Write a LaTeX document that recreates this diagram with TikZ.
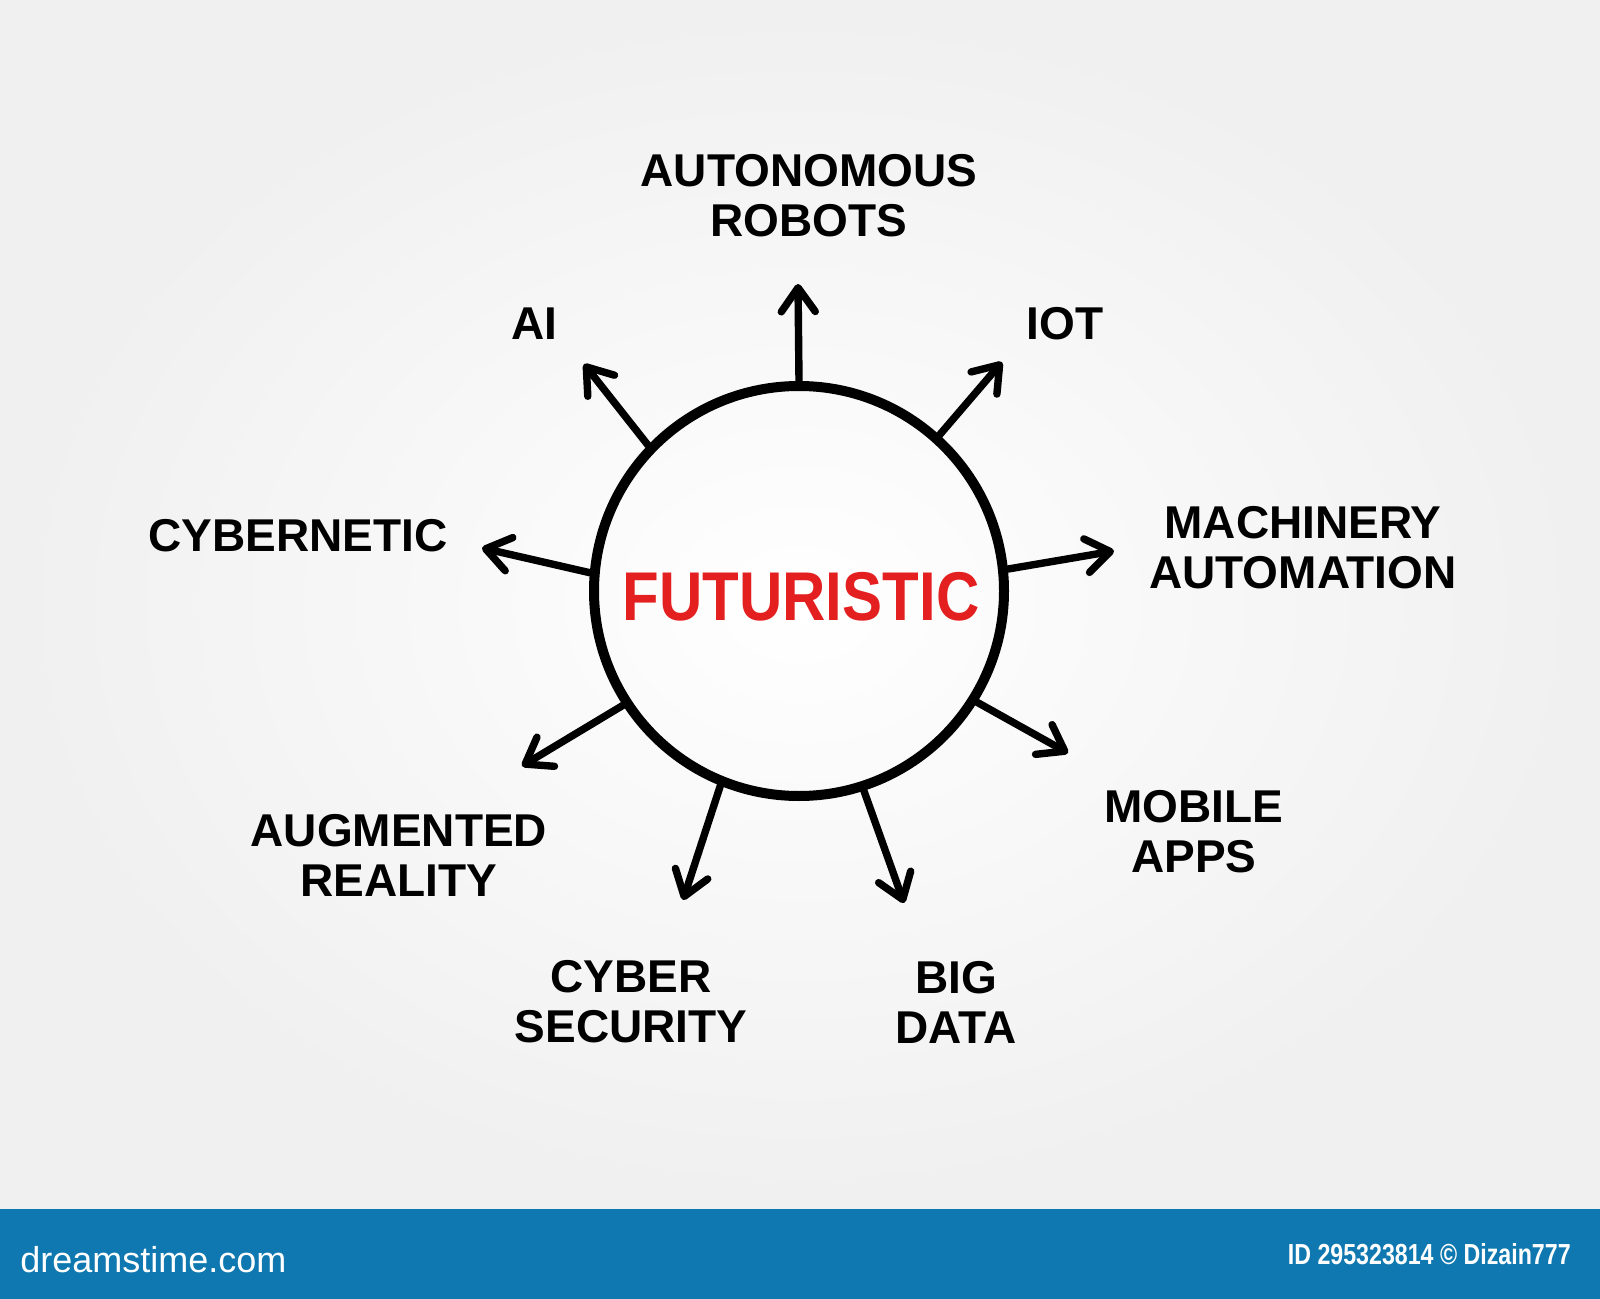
\documentclass[tikz,border=0pt]{standalone}
\usepackage{fontspec}
\setmainfont{Liberation Sans}
\usetikzlibrary{arrows.meta}
\definecolor{futred}{HTML}{E3201F}
\definecolor{bannerblue}{HTML}{0F78B0}
\begin{document}
\begin{tikzpicture}[x=0.5pt,y=-0.5pt,
  lbl/.style={font=\bfseries\fontsize{23}{25}\selectfont, align=center, inner sep=0pt},
  arr/.style={line width=3.7pt, line cap=round, -{Straight Barb[length=12pt,width=17pt,round]}}]
\useasboundingbox (0,0) rectangle (1600,1299);
\shade[inner color=white, outer color=black!6] (0,0) rectangle (1600,1209);
\fill[bannerblue] (0,1209) rectangle (1600,1299);

\node[circle, draw, line width=5pt, minimum size=205pt, inner sep=0pt] (hub) at (799,591) {};
\node[font=\bfseries\fontsize{30}{32}\selectfont, text=futred, inner sep=0pt, yscale=1.15] (fut) at (801,597) {FUTURISTIC};

\node[lbl] (ar) at (809,196) {AUTONOMOUS\\ROBOTS};
\node[lbl] (ai) at (534,324) {AI};
\node[lbl] (iot) at (1065,324) {IOT};
\node[lbl] (cyb) at (298,536) {CYBERNETIC};
\node[lbl] (mach) at (1303,548) {MACHINERY\\AUTOMATION};
\node[lbl] (aug) at (399,855) {AUGMENTED\\REALITY};
\node[lbl] (mob) at (1194,832) {MOBILE\\APPS};
\node[lbl] (cs) at (631,1002) {CYBER\\SECURITY};
\node[lbl] (bd) at (956,1002) {BIG\\DATA};

\coordinate (tAR) at (798,284);
\coordinate (tAI) at (584,364);
\coordinate (tIOT) at (1002,362);
\coordinate (tCyb) at (482,548);
\coordinate (tMach) at (1114,551);
\coordinate (tAug) at (522,766);
\coordinate (tMob) at (1068,753);
\coordinate (tCS) at (683,900);
\coordinate (tBD) at (904,903);

\draw[arr] (hub.90) -- (tAR);
\draw[arr] (hub.136.4) -- (tAI);
\draw[arr] (hub.48.6) -- (tIOT);
\draw[arr] (hub.175) -- (tCyb);
\draw[arr] (hub.6.8) -- (tMach);
\draw[arr] (hub.213.2) -- (tAug);
\draw[arr] (hub.328.9) -- (tMob);
\draw[arr] (hub.248.7) -- (tCS);
\draw[arr] (hub.288.3) -- (tBD);

\node[text=white, font=\fontsize{18}{20}\selectfont, anchor=west, inner sep=0pt] (dt) at (20,1260) {dreamstime.com};
\node[text=white, font=\bfseries\fontsize{14.5}{16}\selectfont, anchor=east, inner sep=0pt, xscale=0.8] (id) at (1571,1254) {ID 295323814 © Dizain777};
\end{tikzpicture}
\end{document}
